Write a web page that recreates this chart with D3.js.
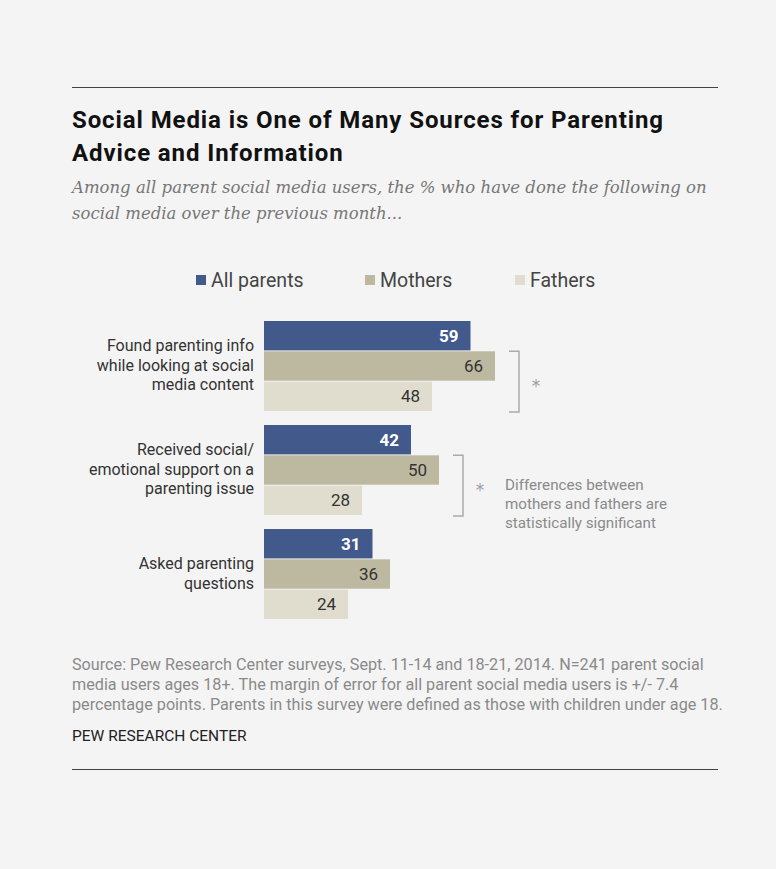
<!DOCTYPE html>
<html>
<head>
<meta charset="utf-8">
<script src="https://cdn.jsdelivr.net/npm/d3@7"></script>
<style>
  body { margin: 0; background: #f4f4f4; }
  #chart { width: 776px; height: 869px; }
  .title { font-family: "Roboto", "Liberation Sans", sans-serif; font-weight: bold; font-size: 24px; letter-spacing: 0.9px; fill: #111; }
  .subtitle { font-family: "DejaVu Serif", Georgia, serif; font-style: italic; font-size: 16.5px; fill: #777; }
  .sans { font-family: "Roboto", "Open Sans", sans-serif; }
</style>
</head>
<body>
<div id="chart"></div>
<script>

// ---- data ----
let categories = [
    ["Found parenting info", "while looking at social", "media content"],
    ["Received social/", "emotional support on a", "parenting issue"],
    ["Asked parenting", "questions"]
];
let seriesNames = ["All parents", "Mothers", "Fathers"];
let allParents = [59, 42, 31];
let mothers = [66, 50, 36];
let fathers = [48, 28, 24];
let significant = [true, true, false];

let colors = ["#41598b", "#bcb9a0", "#e0ddcf"];
let labelColors = ["#ffffff", "#333333", "#333333"];

let sourceLines = [
    "Source: Pew Research Center surveys, Sept. 11-14 and 18-21, 2014.  N=241 parent social",
    "media users ages 18+. The margin of error for all parent social media users is +/- 7.4",
    "percentage points. Parents in this survey were defined as those with children under age 18."
];
let noteLines = ["Differences between", "mothers and fathers are", "statistically significant"];

// ---- drawing ----
let width = 776, height = 869;
let svg = d3.select("#chart").append("svg")
    .attr("width", width)
    .attr("height", height);

svg.append("rect").attr("width", width).attr("height", height).attr("fill", "#f4f4f4");

// rules
svg.append("line").attr("x1", 72).attr("x2", 718).attr("y1", 87.5).attr("y2", 87.5)
    .attr("stroke", "#444").attr("stroke-width", 1.2);
svg.append("line").attr("x1", 72).attr("x2", 718).attr("y1", 769.5).attr("y2", 769.5)
    .attr("stroke", "#444").attr("stroke-width", 1.2);

// title
svg.append("text").attr("class", "title").attr("x", 72).attr("y", 128)
    .text("Social Media is One of Many Sources for Parenting");
svg.append("text").attr("class", "title").attr("x", 72).attr("y", 161)
    .text("Advice and Information");

svg.append("text").attr("class", "subtitle").attr("x", 72).attr("y", 193)
    .text("Among all parent social media users, the % who have done the following on");
svg.append("text").attr("class", "subtitle").attr("x", 72).attr("y", 219)
    .text("social media over the previous month...");

// legend
let legendX = [196, 365, 515];
let legend = svg.append("g");
seriesNames.forEach((name, i) => {
    legend.append("rect")
        .attr("x", legendX[i]).attr("y", 275)
        .attr("width", 10).attr("height", 10)
        .attr("fill", colors[i]);
    legend.append("text")
        .attr("class", "sans")
        .attr("x", legendX[i] + 15).attr("y", 287)
        .attr("font-size", 19.5).attr("fill", "#444")
        .text(name);
});

// scales
let x = d3.scaleLinear().domain([0, 100]).range([264, 614]);
let yGroup = d3.scaleBand().domain(d3.range(categories.length))
    .range([321, 619]).paddingInner(0.135).paddingOuter(0);
let yBar = d3.scaleBand().domain(d3.range(3)).range([0, yGroup.bandwidth()]).paddingInner(0.03);

let rows = categories.map((c, i) => ({
    label: c,
    values: [allParents[i], mothers[i], fathers[i]],
    sig: significant[i]
}));

let groups = svg.selectAll(".group")
    .data(rows)
    .enter()
    .append("g")
    .attr("class", "group")
    .attr("transform", (d, i) => `translate(0, ${yGroup(i)})`);

groups.selectAll("rect")
    .data(d => d.values)
    .enter()
    .append("rect")
    .attr("x", x(0))
    .attr("y", (d, i) => yBar(i))
    .attr("width", d => x(d) - x(0))
    .attr("height", yBar.bandwidth())
    .attr("fill", (d, i) => colors[i]);

groups.selectAll(".val")
    .data(d => d.values)
    .enter()
    .append("text")
    .attr("class", "val sans")
    .attr("x", d => x(d) - 12)
    .attr("y", (d, i) => yBar(i) + yBar.bandwidth() / 2 + 6)
    .attr("text-anchor", "end")
    .attr("font-size", 17)
    .attr("font-weight", (d, i) => i === 0 ? "bold" : "normal")
    .attr("fill", (d, i) => labelColors[i])
    .text(d => d);

// category labels
groups.each(function(d) {
    let g = d3.select(this);
    let n = d.label.length;
    let mid = yGroup.bandwidth() / 2;
    d.label.forEach((line, j) => {
        g.append("text")
            .attr("class", "sans")
            .attr("x", 254)
            .attr("y", mid + (j - (n - 1) / 2) * 19.5 + 5)
            .attr("text-anchor", "end")
            .attr("font-size", 16)
            .attr("fill", "#333")
            .text(line);
    });
});

// significance brackets
groups.filter(d => d.sig).each(function(d) {
    let g = d3.select(this);
    let bx = x(d3.max(d.values)) + 24;
    let top = yBar(1), bot = yBar(2) + yBar.bandwidth() + 1;
    g.append("path")
        .attr("d", `M${bx - 10},${top}H${bx}V${bot}H${bx - 10}`)
        .attr("fill", "none")
        .attr("stroke", "#aaa")
        .attr("stroke-width", 1.5);
    g.append("text")
        .attr("x", bx + 17)
        .attr("y", (top + bot) / 2 + 10)
        .attr("text-anchor", "middle")
        .attr("font-family", "DejaVu Sans, sans-serif")
        .attr("font-size", 17)
        .attr("fill", "#9a9aa8")
        .text("*");
});

// note
noteLines.forEach((line, j) => {
    svg.append("text")
        .attr("class", "sans")
        .attr("x", 505)
        .attr("y", 490 + j * 19)
        .attr("font-size", 15.2)
        .attr("fill", "#8a8a8a")
        .text(line);
});

// source
sourceLines.forEach((line, j) => {
    svg.append("text")
        .attr("class", "sans")
        .attr("x", 72)
        .attr("y", 670 + j * 20)
        .attr("font-size", 16.2)
        .attr("fill", "#8a8a8a")
        .text(line);
});

svg.append("text")
    .attr("class", "sans")
    .attr("x", 72)
    .attr("y", 741)
    .attr("font-size", 15.5)
    .attr("fill", "#222")
    .text("PEW RESEARCH CENTER");

</script>
</body>
</html>
